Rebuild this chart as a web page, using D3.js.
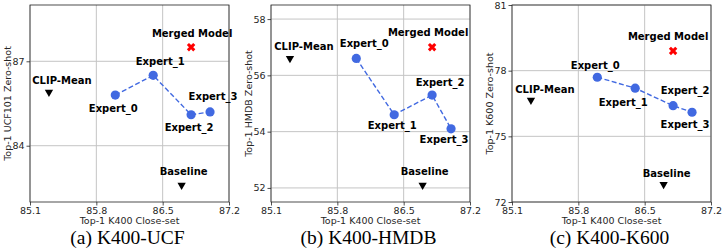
<!DOCTYPE html>
<html>
<head>
<meta charset="utf-8">
<script src="https://cdn.jsdelivr.net/npm/d3@7"></script>
<style>
  body { margin: 0; background: #fff; }
  svg { display: block; }
  .tick text { font-family: 'DejaVu Sans', sans-serif; font-size: 9.5px; fill: #262626; }
  .lbl { font-family: 'DejaVu Sans', sans-serif; font-size: 10px; font-weight: bold; fill: #000; }
  .axis-title { font-family: 'DejaVu Sans', sans-serif; font-size: 9.5px; fill: #262626; }
  .caption { font-family: 'Liberation Serif', 'DejaVu Serif', serif; font-size: 19.5px; fill: #000; }
</style>
</head>
<body>
<svg id="chart" width="725" height="250"></svg>
<script>
// shared x axis (Top-1 K400 Close-set)
const xTicks = [85.1, 85.8, 86.5, 87.2];
const expertNames = ['Expert_0', 'Expert_1', 'Expert_2', 'Expert_3'];
const expertK400 = [86.0, 86.4, 86.8, 87.0];
const mergedK400 = 86.8;
const clipMeanK400 = 85.3;
const baselineK400 = 86.7;

// zero-shot values per panel
const ucfExperts = [85.8, 86.5, 85.1, 85.2];
const ucfMerged = 87.5, ucfClipMean = 85.9, ucfBaseline = 82.6;
const ucfTicks = [84, 87];

const hmdbExperts = [56.6, 54.6, 55.3, 54.1];
const hmdbMerged = 57.0, hmdbClipMean = 56.6, hmdbBaseline = 52.1;
const hmdbTicks = [52, 54, 56, 58];

const k600Experts = [77.7, 77.2, 76.4, 76.1];
const k600Merged = 78.9, k600ClipMean = 76.65, k600Baseline = 72.8;
const k600Ticks = [72, 75, 78, 81];

const panels = [
  {ylabel: 'Top-1 UCF101 Zero-shot', caption: '(a) K400-UCF', experts: ucfExperts,
   merged: ucfMerged, clip: ucfClipMean, base: ucfBaseline, ticks: ucfTicks, domain: [82, 89],
   left: 30,
   off: {merged: [1, -14], clip: [13, -12], base: [2, -14],
         e: [[-2, 13], [7, -14], [-2, 13], [3, -15]]}},
  {ylabel: 'Top-1 HMDB Zero-shot', caption: '(b) K400-HMDB', experts: hmdbExperts,
   merged: hmdbMerged, clip: hmdbClipMean, base: hmdbBaseline, ticks: hmdbTicks, domain: [51.5, 58.5],
   left: 271,
   off: {merged: [-4, -15], clip: [14, -12], base: [2, -14],
         e: [[8, -15], [-2, 11], [8, -13], [-7, 11]]}},
  {ylabel: 'Top-1 K600 Zero-shot', caption: '(c) K400-K600', experts: k600Experts,
   merged: k600Merged, clip: k600ClipMean, base: k600Baseline, ticks: k600Ticks, domain: [72, 81],
   left: 512,
   off: {merged: [-5, -14], clip: [14, -11], base: [3, -11],
         e: [[-2, -12], [-12, 14], [12, -15], [-7, 12]]}}
];

const plotTop = 5, h = 197, w = 199;
const svg = d3.select('#chart');

panels.forEach(p => {
  const g = svg.append('g').attr('transform', 'translate(' + p.left + ',' + plotTop + ')');
  const x = d3.scaleLinear().domain([85.1, 87.2]).range([0, w]);
  const y = d3.scaleLinear().domain(p.domain).range([h, 0]);

  // grid
  g.selectAll('.vg').data(xTicks).enter().append('line')
    .attr('x1', d => x(d)).attr('x2', d => x(d)).attr('y1', 0).attr('y2', h)
    .attr('stroke', '#c4c4c4').attr('stroke-width', 1);
  g.selectAll('.hg').data(p.ticks).enter().append('line')
    .attr('x1', 0).attr('x2', w).attr('y1', d => y(d)).attr('y2', d => y(d))
    .attr('stroke', '#c4c4c4').attr('stroke-width', 1);

  // axes
  const xa = g.append('g').attr('transform', 'translate(0,' + h + ')')
    .call(d3.axisBottom(x).tickValues(xTicks).tickFormat(d3.format('.1f')).tickSize(3.5).tickPadding(2));
  const ya = g.append('g')
    .call(d3.axisLeft(y).tickValues(p.ticks).tickFormat(d3.format('d')).tickSize(3.5).tickPadding(2));
  [xa, ya].forEach(a => {
    a.select('.domain').remove();
    a.selectAll('.tick line').attr('stroke', '#222').attr('stroke-width', 0.8);
  });

  // frame
  g.append('rect').attr('width', w).attr('height', h)
    .attr('fill', 'none').attr('stroke', '#222').attr('stroke-width', 0.8);

  // experts line + markers
  const pts = expertK400.map((k, i) => ({x: k, y: p.experts[i], name: expertNames[i]}));
  g.append('path').datum(pts)
    .attr('d', d3.line().x(d => x(d.x)).y(d => y(d.y)))
    .attr('fill', 'none').attr('stroke', '#4169e1').attr('stroke-width', 1.4)
    .attr('stroke-dasharray', '5,2.5');
  g.selectAll('.pt').data(pts).enter().append('circle')
    .attr('cx', d => x(d.x)).attr('cy', d => y(d.y)).attr('r', 4.6)
    .attr('fill', '#4169e1');

  // merged model
  g.append('path')
    .attr('d', d3.symbol(d3.symbolCross, 45)())
    .attr('transform', 'translate(' + x(mergedK400) + ',' + y(p.merged) + ') rotate(45)')
    .attr('fill', '#ff0000');

  // clip-mean and baseline (down triangles)
  [[clipMeanK400, p.clip], [baselineK400, p.base]].forEach(d => {
    g.append('path')
      .attr('d', d3.symbol(d3.symbolTriangle, 30)())
      .attr('transform', 'translate(' + x(d[0]) + ',' + y(d[1]) + ') rotate(180)')
      .attr('fill', '#000');
  });

  // labels
  const label = (txt, px, py, o) => g.append('text').attr('class', 'lbl')
    .attr('x', x(px) + o[0]).attr('y', y(py) + o[1]).attr('dy', '0.35em')
    .attr('text-anchor', 'middle').text(txt);
  label('Merged Model', mergedK400, p.merged, p.off.merged);
  label('CLIP-Mean', clipMeanK400, p.clip, p.off.clip);
  label('Baseline', baselineK400, p.base, p.off.base);
  pts.forEach((d, i) => label(d.name, d.x, d.y, p.off.e[i]));

  // axis titles
  g.append('text').attr('class', 'axis-title')
    .attr('x', w / 2).attr('y', h + 19).attr('dy', '0.35em')
    .attr('text-anchor', 'middle').text('Top-1 K400 Close-set');
  g.append('text').attr('class', 'axis-title')
    .attr('transform', 'translate(-22,' + (h / 2) + ') rotate(-90)')
    .attr('dy', '0.35em').attr('text-anchor', 'middle').text(p.ylabel);
  g.append('text').attr('class', 'caption')
    .attr('x', w / 2 - 2).attr('y', 244 - plotTop)
    .attr('text-anchor', 'middle').text(p.caption);
});
</script>
</body>
</html>
